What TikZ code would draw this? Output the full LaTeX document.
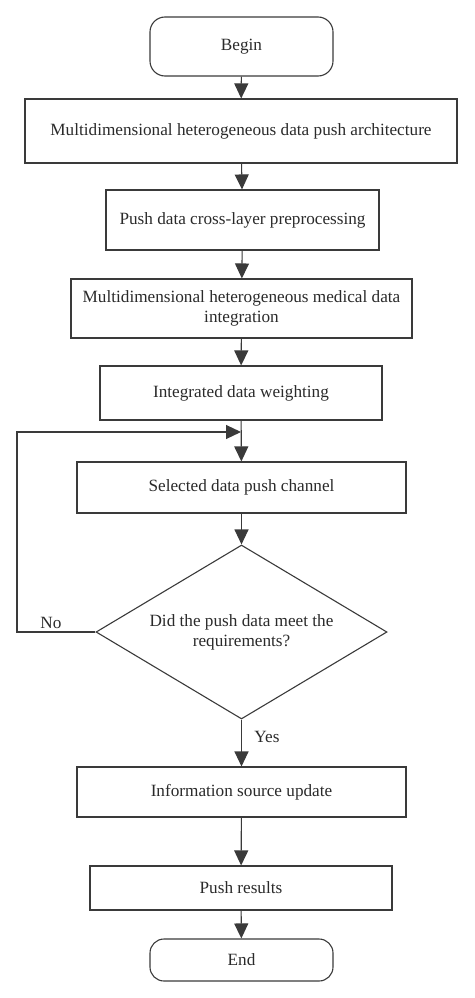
\documentclass[tikz,border=0pt]{standalone}
\usepackage{fontspec}
\setmainfont{Liberation Serif}
\usetikzlibrary{arrows.meta,shapes.geometric}
\definecolor{linec}{HTML}{3A3A3A}
\definecolor{textc}{HTML}{2A2A2A}
\begin{document}
\begin{tikzpicture}[x=1pt,y=-1pt,
  every node/.style={text=textc,font=\fontsize{17.2}{20}\selectfont},
  proc/.style={draw=linec,line width=1.1pt,inner sep=0pt,align=center},
  term/.style={proc,rounded corners=15pt},
  dec/.style={draw=linec,line width=1.1pt,diamond,aspect=1.67,inner sep=0pt,align=center},
  flow/.style={draw=linec,line width=1.1pt,-{Triangle[length=15pt,width=14pt]}},
  lbl/.style={inner sep=0pt}]
\useasboundingbox (0,0) rectangle (474,998);
\node[term,minimum width=183pt,minimum height=59pt] (begin) at (241.5,46.5) {Begin};
\node[proc,minimum width=432pt,minimum height=64pt] (b1) at (241,131) {Multidimensional heterogeneous data push architecture};
\node[proc,minimum width=273pt,minimum height=60pt] (b2) at (242.5,220) {Push data cross-layer preprocessing};
\node[proc,minimum width=341pt,minimum height=59pt] (b3) at (241.5,308.5) {Multidimensional heterogeneous medical data\\integration};
\node[proc,minimum width=282pt,minimum height=54pt] (b4) at (241,393) {Integrated data weighting};
\node[proc,minimum width=329pt,minimum height=51pt] (b5) at (241.5,487.5) {Selected data push channel};
\node[dec,minimum width=291pt,minimum height=174pt] (d) at (241.5,632) {Did the push data meet the\\requirements?};
\node[proc,minimum width=329pt,minimum height=50pt] (b6) at (241.5,792) {Information source update};
\node[proc,minimum width=302pt,minimum height=44pt] (b7) at (241,888) {Push results};
\node[term,minimum width=183pt,minimum height=42pt,rounded corners=14pt] (end) at (241.5,960) {End};
\coordinate (j) at (241,432);
\coordinate (lc) at (17,632);
\coordinate (uc) at (17,432);
\node[lbl] (no) at (51,623) {No};
\node[lbl] (yes) at (267,737) {Yes};
\draw[flow] (begin) -- (b1);
\draw[flow] (b1) -- (b2);
\draw[flow] (b2) -- (b3);
\draw[flow] (b3) -- (b4);
\draw[flow] (b4) -- (b5);
\draw[flow] (b5) -- (d);
\draw[flow] (d) -- (b6);
\draw[flow] (b6) -- (b7);
\draw[flow] (b7) -- (end);
\draw[flow] (d.west) -- (lc) -- (uc) -- (j);
\end{tikzpicture}
\end{document}
